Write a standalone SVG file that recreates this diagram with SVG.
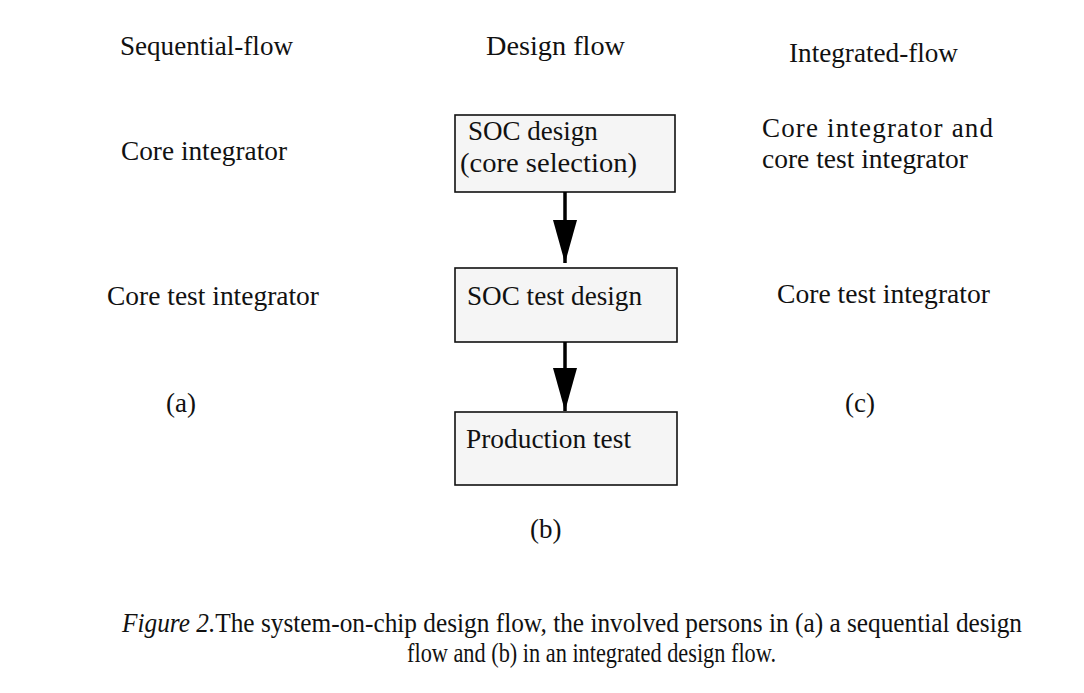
<svg xmlns="http://www.w3.org/2000/svg" width="1084" height="693" viewBox="0 0 1084 693">
<style>
text{font-family:"Liberation Serif","Times New Roman",serif;font-size:27px;fill:#111}
.box{fill:#f5f5f5;stroke:#111;stroke-width:1.6}
.cap{font-size:27px}
</style>
<defs>
<marker id="ah" viewBox="0 0 43 24" refX="43" refY="12" markerWidth="43" markerHeight="24" markerUnits="userSpaceOnUse" orient="auto">
<path d="M0,0 L43,12 L0,24 Z" fill="#000"/>
</marker>
</defs>
<rect width="1084" height="693" fill="#fff"/>
<g id="headers">
<text x="120" y="55" textLength="173" lengthAdjust="spacingAndGlyphs">Sequential-flow</text>
<text x="486" y="55" textLength="139" lengthAdjust="spacingAndGlyphs">Design flow</text>
<text x="789" y="62" textLength="169" lengthAdjust="spacingAndGlyphs">Integrated-flow</text>
</g>
<g id="left-labels">
<text x="121" y="160" textLength="166" lengthAdjust="spacingAndGlyphs">Core integrator</text>
<text x="107" y="305" textLength="212" lengthAdjust="spacingAndGlyphs">Core test integrator</text>
<text x="166" y="412">(a)</text>
</g>
<g id="right-labels">
<text x="762" y="137" textLength="231" lengthAdjust="spacing">Core  integrator  and</text>
<text x="762" y="168" textLength="206" lengthAdjust="spacingAndGlyphs">core test integrator</text>
<text x="777" y="303" textLength="213" lengthAdjust="spacingAndGlyphs">Core test integrator</text>
<text x="845" y="412">(c)</text>
</g>
<g id="node-soc-design">
<rect class="box" x="455" y="115" width="220" height="77"/>
<text x="468" y="140">SOC design</text>
<text x="460" y="172" textLength="177" lengthAdjust="spacingAndGlyphs">(core selection)</text>
</g>
<g id="node-soc-test-design">
<rect class="box" x="455" y="268" width="222" height="74"/>
<text x="467" y="305" textLength="175" lengthAdjust="spacingAndGlyphs">SOC test design</text>
</g>
<g id="node-production-test">
<rect class="box" x="455" y="412" width="222" height="73"/>
<text x="466" y="448" textLength="165" lengthAdjust="spacingAndGlyphs">Production test</text>
</g>
<g id="connectors" stroke="#000" stroke-width="3.5">
<line x1="565" y1="192" x2="565" y2="263" marker-end="url(#ah)"/>
<line x1="565" y1="342" x2="565" y2="411" marker-end="url(#ah)"/>
</g>
<text x="530" y="538">(b)</text>
<g id="caption">
<text class="cap" x="122" y="632" textLength="900" lengthAdjust="spacingAndGlyphs"><tspan font-style="italic">Figure 2.</tspan>The system-on-chip design flow, the involved persons in (a) a sequential design</text>
<text class="cap" x="407" y="662" textLength="369" lengthAdjust="spacingAndGlyphs">flow and (b) in an integrated design flow.</text>
</g>
</svg>
